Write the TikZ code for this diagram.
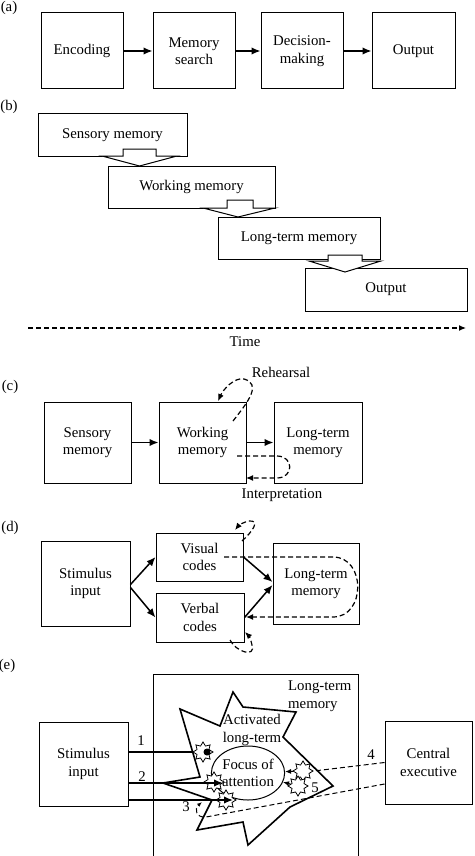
\documentclass[tikz,border=0pt]{standalone}
\usepackage{fontspec}
\setmainfont{Liberation Serif}
\usetikzlibrary{arrows.meta,shapes.geometric,calc}
\begin{document}
\begin{tikzpicture}[x=1pt,y=-1pt,
  every node/.style={font=\fontsize{14.8}{17.5}\selectfont},
  box/.style={draw,line width=1pt,inner sep=0pt,align=center},
  arr/.style={line width=1.5pt,-{Latex[length=9pt,width=7.5pt]}},
  darr/.style={line width=1.2pt,dash pattern=on 5pt off 3pt,-{Latex[length=7pt,width=6pt]}},
  dline/.style={line width=1pt,dash pattern=on 5pt off 3pt},
  sarr/.style={line width=1pt,-{Latex[length=6pt,width=5pt]}},
  blk/.style={draw,line width=1pt,fill=white,line join=miter},
  burst/.style={star,star points=8,star point ratio=1.55,minimum size=20pt,inner sep=0pt,draw,fill=white,line width=0.8pt},
  lbl/.style={inner sep=0pt}
]
\useasboundingbox (0,0) rectangle (474,856);

% ---------- (a)
\node[lbl] (la) at (9,8) {(a)};
\node[box,minimum width=82pt,minimum height=76pt] (enc) at (82,51) {Encoding};
\node[box,minimum width=82pt,minimum height=76pt] (mem) at (194,51) {Memory\\search};
\node[box,minimum width=82pt,minimum height=76pt] (dec) at (302,51) {Decision-\\making};
\node[box,minimum width=83pt,minimum height=76pt] (out) at (413.5,51) {Output};
\draw[arr] (enc) -- (mem);
\draw[arr] (mem) -- (dec);
\draw[arr] (dec) -- (out);

% ---------- (b)
\node[lbl] (lb) at (9,107) {(b)};
\node[box,minimum width=149pt,minimum height=42pt] (sens) at (112.5,135) {Sensory memory};
\node[box,minimum width=167pt,minimum height=42pt] (work) at (191.5,187) {Working memory};
\node[box,minimum width=162pt,minimum height=42pt] (ltm) at (299,238) {Long-term memory};
\node[box,minimum width=162pt,minimum height=43pt] (outb) at (386,289.5) {Output};
\draw[blk] (123,149) -- (156,149) -- (156,156) -- (177,156) -- (139.5,166) -- (102,156) -- (123,156) -- cycle;
\draw[blk] (227,200) -- (253,200) -- (253,208) -- (275,208) -- (238,217) -- (203,208) -- (227,208) -- cycle;
\draw[blk] (328,255) -- (362,255) -- (362,261) -- (381,261) -- (345,272) -- (309,261) -- (328,261) -- cycle;
\coordinate (t0) at (28,328);
\coordinate (t1) at (466,328);
\draw[darr] (t0) -- (t1);
\node[lbl] (time) at (245,342) {Time};

% ---------- (c)
\node[lbl] (lc) at (10,387) {(c)};
\node[box,minimum width=87pt,minimum height=81pt] (cs) at (87.5,442.5) {Sensory\\memory};
\node[box,minimum width=87pt,minimum height=81pt] (cw) at (202.5,442.5) {Working\\memory};
\node[box,minimum width=88pt,minimum height=81pt] (cl) at (318,442.5) {Long-term\\memory};
\draw[arr] (cs) -- (cw);
\draw[arr] (cw) -- (cl);
\coordinate (r0) at (233,421);
\coordinate (r1) at (218,401);
\draw[darr] (r0) .. controls (248,402) and (262,384) .. (244,379) .. controls (234,377) and (223,390) .. (r1);
\node[lbl] (reh) at (281,372) {Rehearsal};
\coordinate (i0) at (237,456);
\coordinate (i1) at (246,478);
\draw[darr] (i0) -- (277,456) .. controls (294,456) and (294,478) .. (277,478) -- (i1);
\node[lbl] (interp) at (282,495) {Interpretation};

% ---------- (d)
\node[lbl] (ld) at (10,528) {(d)};
\node[box,minimum width=89pt,minimum height=85pt] (ds) at (85.5,583.5) {Stimulus\\input};
\node[box,minimum width=87pt,minimum height=48pt] (dv) at (199.5,557) {Visual\\codes};
\node[box,minimum width=88pt,minimum height=49pt] (dvb) at (200,617.5) {Verbal\\codes};
\node[box,minimum width=86pt,minimum height=81pt] (dl) at (316,583.5) {Long-term\\memory};
\draw[arr] ([yshift=-1pt]ds.east) -- (dv.west);
\draw[arr] ([yshift=-4pt]ds.east) -- (dvb.west);
\draw[arr] (dv.east) -- ([yshift=1.5pt]dl.west);
\draw[arr] (dvb.east) -- ([yshift=-1.5pt]dl.west);
\coordinate (v0) at (224,557);
\coordinate (v1) at (246,617);
\draw[darr] (v0) -- (333,557) .. controls (366,557) and (366,617) .. (333,617) -- (v1);
\coordinate (va) at (242,541);
\coordinate (vb) at (235,530);
\draw[darr] (va) .. controls (252,532) and (261,520) .. (249,521) .. controls (244,522) and (239,525) .. (vb);
\coordinate (wa) at (230,640);
\coordinate (wb) at (245,632);
\draw[darr] (wa) .. controls (236,652) and (256,658) .. (252,645) .. controls (251,640) and (249,636) .. (wb);

% ---------- (e)
\node[lbl] (le) at (7,666) {(e)};
\node[draw,line width=1pt,minimum width=205pt,minimum height=220pt,anchor=north west,inner sep=0pt] (ebig) at (153,674) {};
\node[lbl,anchor=west,align=left] (eltm) at (288,696) {Long-term\\memory};
\node[box,minimum width=89pt,minimum height=84pt] (es) at (83.5,764) {Stimulus\\input};
\node[box,minimum width=87pt,minimum height=83pt] (ece) at (428.5,762.5) {Central\\executive};
\draw[line width=1.6pt,line join=miter] (180,709) -- (220,726) -- (233,692) -- (243,707) -- (296,712) -- (283,737) -- (333,786) -- (290,807) -- (248,845) -- (243,822) -- (197,830) -- (212,800) -- (163,783) -- (200,777) -- cycle;
\node[lbl,align=center] (act) at (252,730) {Activated\\long-term};
\node[draw,ellipse,line width=1pt,minimum width=66pt,minimum height=54pt,inner sep=0pt,align=center] (foc) at (248,773) {Focus of\\attention};
\node[burst] (s1) at (203,752) {};
\node[burst] (s2) at (214,782) {};
\node[burst] (s3) at (226,800) {};
\node[burst] (s4) at (303,771) {};
\node[burst] (s5) at (298,786) {};
\fill (207,752) circle (3.5pt);
\draw[line width=1.4pt] (es.east |- s1) -- (s1.west);
\coordinate (e2) at (223,783);
\coordinate (e3) at (233,800);
\draw[arr] (es.east |- e2) -- (e2);
\draw[arr] (es.east |- e3) -- (e3);
\node[lbl] (n1) at (141,741) {1};
\node[lbl] (n2) at (142,777) {2};
\node[lbl] (n3) at (186,807) {3};
\node[lbl] (n4) at (371,755) {4};
\node[lbl] (n5) at (315,788) {5};
\draw[dline] (ece.west) -- (s4.east);
\draw[sarr] (s4) -- (foc);
\draw[sarr] (s5) -- (foc);
\coordinate (x3) at (202,802);
\draw[dline,-{Latex[length=5pt,width=4pt]}] ([yshift=-21.5pt]ece.west) -- (206,817) .. controls (196,818) and (194,809) .. (x3);
\end{tikzpicture}
\end{document}
